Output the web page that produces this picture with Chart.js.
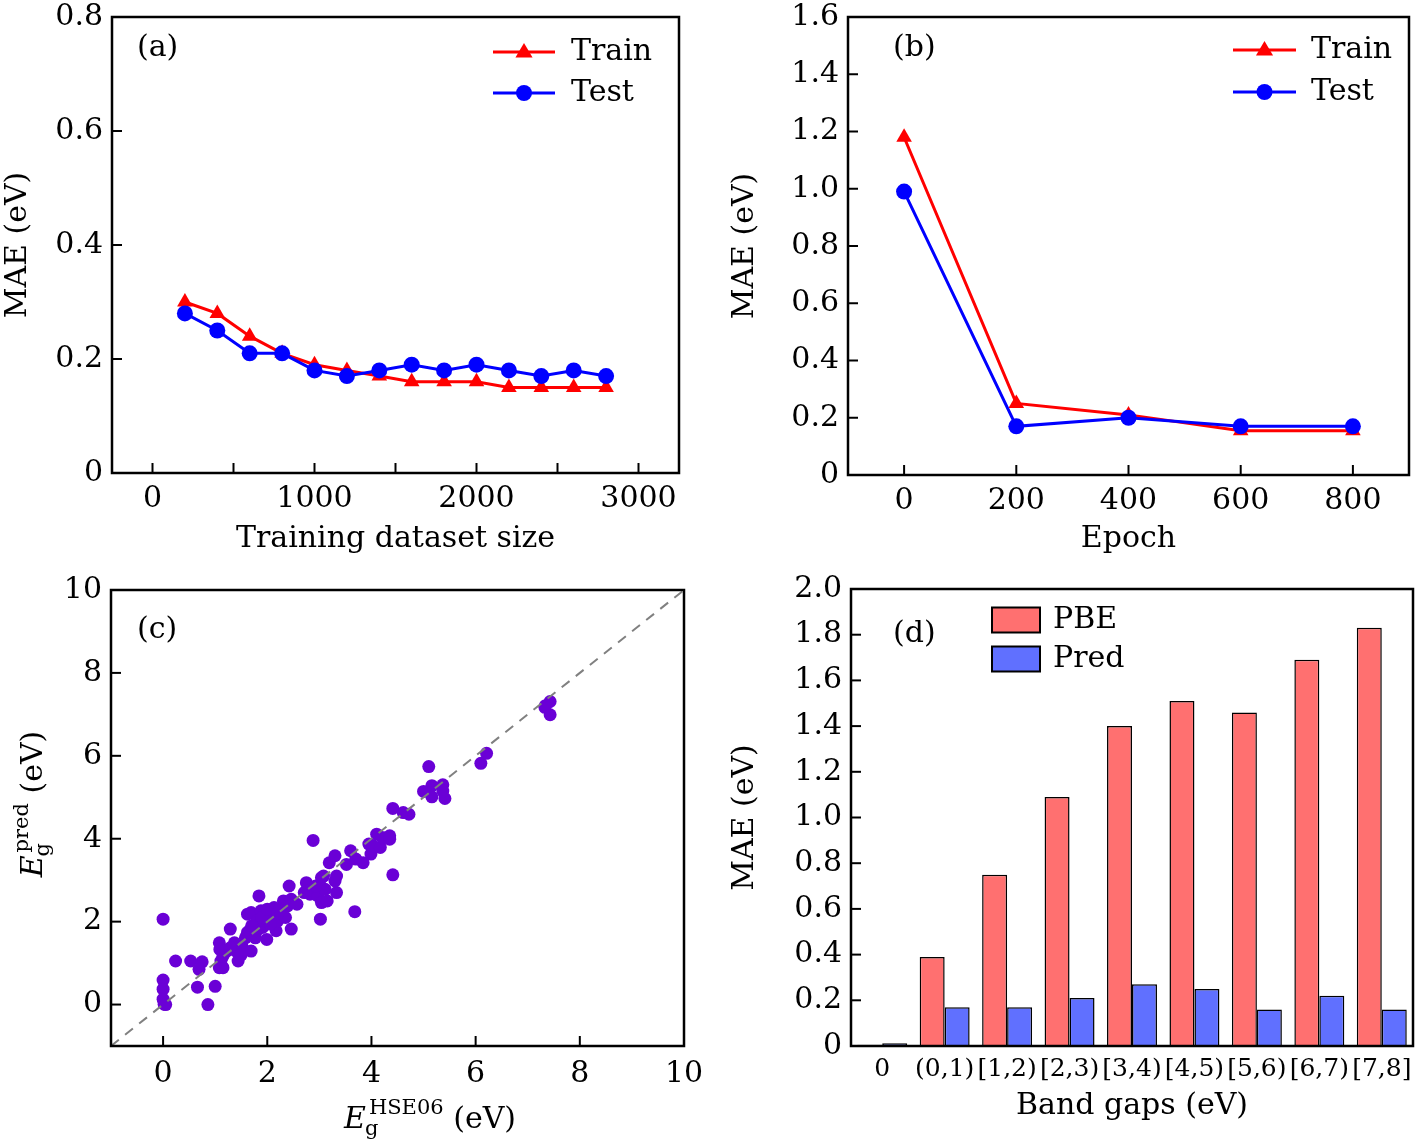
<!DOCTYPE html>
<html>
<head>
<meta charset="utf-8">
<script src="https://cdn.jsdelivr.net/npm/chart.js@4.4.0/dist/chart.umd.min.js"></script>
<style>
  body { margin: 0; background: #fff; width: 1418px; height: 1141px; position: relative; overflow: hidden; }
  canvas { position: absolute; }
</style>
</head>
<body>
<canvas id="chartA" width="709" height="570" style="left:0;top:0;width:709px;height:570px"></canvas>
<canvas id="chartB" width="709" height="570" style="left:709px;top:0;width:709px;height:570px"></canvas>
<canvas id="chartC" width="709" height="571" style="left:0;top:570px;width:709px;height:571px"></canvas>
<canvas id="chartD" width="709" height="571" style="left:709px;top:570px;width:709px;height:571px"></canvas>
<script>
// (a) MAE vs training set size
const datasetSizes = [200, 400, 600, 800, 1000, 1200, 1400, 1600, 1800, 2000, 2200, 2400, 2600, 2800];
const trainBySize = [0.30, 0.28, 0.24, 0.21, 0.19, 0.18, 0.17, 0.16, 0.16, 0.16, 0.15, 0.15, 0.15, 0.15];
const testBySize  = [0.28, 0.25, 0.21, 0.21, 0.18, 0.17, 0.18, 0.19, 0.18, 0.19, 0.18, 0.17, 0.18, 0.17];
const sizeTicks = [0, 500, 1000, 1500, 2000, 2500, 3000];

// (b) MAE vs epoch
const epochs = [0, 200, 400, 600, 800];
const trainByEpoch = [1.18, 0.25, 0.21, 0.155, 0.155];
const testByEpoch  = [0.99, 0.17, 0.20, 0.17, 0.17];
const epochTicks = [0, 200, 400, 600, 800];

// (c) predicted vs HSE06 gaps
const hseGap = [0, 0, 0, 0, 0.02, 0.05, 0.24, 0.53, 0.75, 0.69, 0.66, 1.0, 0.86, 1.08, 1.09, 1.11, 1.08, 1.15,
  1.29, 1.37, 1.22, 1.44, 1.40, 1.51, 1.62, 1.69, 1.62, 1.69, 1.84, 1.88, 1.77, 1.80, 1.91, 1.99, 2.02, 2.10,
  2.13, 2.17, 2.20, 2.28, 2.31, 2.39, 2.46, 2.42, 2.46, 2.57, 2.75, 2.71, 2.82, 2.88, 2.97, 3.08, 3.11, 3.04,
  3.15, 3.02, 3.33, 3.33, 3.30, 3.19, 3.30, 3.52, 3.60, 3.70, 3.84, 3.68, 3.99, 3.95, 4.03, 4.10, 4.17, 4.21,
  4.35, 4.35, 4.41, 4.41, 4.61, 4.72, 5.10, 5.00, 5.16, 5.16, 5.37, 5.41, 5.37, 6.10, 6.21, 7.33, 7.43, 7.43,
  7.34, 1.15, 1.29, 1.58, 1.66, 1.80, 1.88, 1.95, 2.06, 2.24, 2.35, 2.75, 2.93, 3.04, 1.50, 1.90, 2.00, 2.20, 1.70];
const predGap = [2.06, 0.59, 0.37, 0.13, 0.01, 0.0, 1.05, 1.05, 1.03, 0.85, 0.42, 0.44, 0.0, 1.49, 1.33, 1.05, 0.89, 0.89,
  1.82, 1.49, 1.29, 1.05, 1.29, 1.41, 1.74, 1.29, 2.18, 2.22, 2.62, 2.26, 1.61, 2.02, 1.86, 1.57, 2.10, 2.18,
  2.34, 1.78, 2.02, 2.18, 2.50, 2.38, 1.82, 2.86, 2.54, 2.42, 2.94, 2.70, 2.66, 3.96, 2.62, 3.10, 2.78, 2.46,
  2.50, 2.06, 2.70, 3.10, 2.98, 3.42, 3.59, 3.38, 3.71, 3.51, 3.42, 2.24, 3.63, 3.87, 3.83, 4.11, 3.79, 4.03,
  4.07, 3.99, 3.13, 4.73, 4.63, 4.59, 5.74, 5.14, 5.28, 5.01, 5.30, 4.97, 5.15, 5.82, 6.06, 7.17, 7.31, 6.99,
  7.21, 1.17, 1.37, 1.61, 1.78, 1.78, 1.94, 2.02, 1.94, 2.30, 2.10, 2.74, 2.86, 3.06, 1.20, 2.10, 2.30, 2.20, 1.90];
const diagonal = [-1, 10];
const gapTicks = [0, 2, 4, 6, 8, 10];

// (d) MAE by band-gap range
const gapBins = ['0', '(0,1)', '[1,2)', '[2,3)', '[3,4)', '[4,5)', '[5,6)', '[6,7)', '[7,8]'];
const pbeMae  = [0.005, 0.39, 0.75, 1.09, 1.40, 1.51, 1.46, 1.69, 1.83];
const predMae = [0.012, 0.17, 0.17, 0.21, 0.27, 0.25, 0.16, 0.22, 0.16];

const FONT = 'DejaVu Serif';
Chart.defaults.font.family = FONT;
Chart.defaults.font.size = 30;
Chart.defaults.color = '#000';

const fmt1 = v => (v === 0 ? '0' : v.toFixed(1));

// box frame + inward ticks + panel letter + legends
const decor = {
  id: 'decor',
  afterDatasetsDraw(chart, args, o) {
    const { ctx, chartArea: a } = chart;
    ctx.save();
    ctx.strokeStyle = '#000';
    ctx.lineWidth = 2;
    const len = 10;
    if (o.xTicks !== false) {
      chart.scales.x.ticks.forEach(t => {
        const px = chart.scales.x.getPixelForValue(t.value);
        if (px <= a.left + 1 || px >= a.right - 1) return;
        ctx.beginPath(); ctx.moveTo(px, a.bottom); ctx.lineTo(px, a.bottom - len); ctx.stroke();
      });
    }
    chart.scales.y.ticks.forEach(t => {
      const py = chart.scales.y.getPixelForValue(t.value);
      if (py <= a.top + 1 || py >= a.bottom - 1) return;
      ctx.beginPath(); ctx.moveTo(a.left, py); ctx.lineTo(a.left + len, py); ctx.stroke();
    });
    ctx.lineWidth = 2.5;
    ctx.strokeRect(a.left, a.top, a.right - a.left, a.bottom - a.top);

    ctx.font = '30px ' + FONT;
    ctx.fillStyle = '#000';
    ctx.textBaseline = 'middle';
    ctx.textAlign = 'left';
    if (o.label) ctx.fillText(o.label.text, o.label.x, o.label.y);

    if (o.lineLegend) {
      const L = o.lineLegend;
      L.items.forEach(it => {
        const ds = chart.data.datasets[it.ds];
        ctx.strokeStyle = ds.borderColor;
        ctx.lineWidth = 3;
        ctx.beginPath(); ctx.moveTo(L.x1, it.y); ctx.lineTo(L.x2, it.y); ctx.stroke();
        ctx.fillStyle = ds.backgroundColor;
        const cx = (L.x1 + L.x2) / 2;
        const r = ds.pointRadius;
        ctx.beginPath();
        if (ds.pointStyle === 'triangle') {
          ctx.moveTo(cx, it.y - r);
          ctx.lineTo(cx + r * 0.95, it.y + r * 0.6);
          ctx.lineTo(cx - r * 0.95, it.y + r * 0.6);
          ctx.closePath();
        } else {
          ctx.arc(cx, it.y, r, 0, Math.PI * 2);
        }
        ctx.fill();
        ctx.fillStyle = '#000';
        ctx.fillText(ds.label, L.tx, it.y);
      });
    }
    if (o.boxLegend) {
      const L = o.boxLegend;
      L.items.forEach(it => {
        const ds = chart.data.datasets[it.ds];
        ctx.fillStyle = ds.backgroundColor;
        ctx.fillRect(L.x, it.y - L.h / 2, L.w, L.h);
        ctx.strokeStyle = '#000';
        ctx.lineWidth = 2;
        ctx.strokeRect(L.x, it.y - L.h / 2, L.w, L.h);
        ctx.fillStyle = '#000';
        ctx.fillText(ds.label, L.tx, it.y);
      });
    }
    ctx.restore();
  }
};

// E_g^{sup} (eV) title with sub/superscripts
function drawGapTitle(ctx, cx, cy, sup, rotate) {
  const size = 30, small = 21;
  ctx.save();
  ctx.translate(cx, cy);
  if (rotate) ctx.rotate(-Math.PI / 2);
  ctx.fillStyle = '#000';
  ctx.textBaseline = 'alphabetic';
  ctx.textAlign = 'left';
  ctx.font = 'italic ' + size + 'px ' + FONT;
  const wE = ctx.measureText('E').width;
  ctx.font = small + 'px ' + FONT;
  const wSub = ctx.measureText('g').width;
  const wSup = ctx.measureText(sup).width;
  ctx.font = size + 'px ' + FONT;
  const wRest = ctx.measureText(' (eV)').width;
  const total = wE + Math.max(wSub + 1, wSup + 3) + wRest;
  let x = -total / 2;
  const base = 10;
  ctx.font = 'italic ' + size + 'px ' + FONT;
  ctx.fillText('E', x, base);
  x += wE;
  ctx.font = small + 'px ' + FONT;
  ctx.fillText('g', x - 1, base + 7);
  ctx.fillText(sup, x + 3, base - 14);
  x += Math.max(wSub + 1, wSup + 3);
  ctx.font = size + 'px ' + FONT;
  ctx.fillText(' (eV)', x, base);
  ctx.restore();
}

const mathTitles = {
  id: 'mathTitles',
  afterDraw(chart, args, o) {
    if (!o.x) return;
    drawGapTitle(chart.ctx, o.x.cx, o.x.cy, 'HSE06', false);
    drawGapTitle(chart.ctx, o.y.cx, o.y.cy, 'pred', true);
  }
};

function fixedTicks(values) {
  return s => { s.ticks = values.map(v => ({ value: v })); };
}

function yAxis(min, max, step, width, titleText, titlePad, cb) {
  return {
    min, max,
    grid: { display: false, drawTicks: false },
    border: { display: false },
    afterFit: s => { s.width = width; s.paddingTop = 0; s.paddingBottom = 0; },
    ticks: { stepSize: step, padding: 9, font: { size: 30, lineHeight: 1 }, callback: cb || fmt1 },
    title: titleText ? { display: true, text: titleText, font: { size: 30, lineHeight: 1 }, padding: { top: titlePad, bottom: titlePad } } : { display: false }
  };
}
function xAxis(min, max, tickValues, height, labelPad, titleText, titlePad, cb) {
  return {
    type: 'linear', min, max,
    grid: { display: false, drawTicks: false },
    border: { display: false },
    afterBuildTicks: fixedTicks(tickValues),
    afterFit: s => { s.height = height; s.paddingLeft = 0; s.paddingRight = 0; },
    ticks: { padding: labelPad, maxRotation: 0, autoSkip: false, font: { size: 30, lineHeight: 1 }, callback: cb || (v => String(v)) },
    title: titleText ? { display: true, text: titleText, font: { size: 30, lineHeight: 1 }, padding: { top: titlePad, bottom: titlePad } } : { display: false }
  };
}

const commonPlugins = { legend: { display: false }, tooltip: { enabled: false } };

function lineSet(label, xs, ys, color, style, radius, order) {
  return {
    label, data: xs.map((x, i) => ({ x, y: ys[i] })),
    borderColor: color, backgroundColor: color, borderWidth: 3,
    pointStyle: style, pointRadius: radius, pointBorderWidth: 0,
    pointBackgroundColor: color, tension: 0, order, clip: false
  };
}

// (a)
new Chart(document.getElementById('chartA'), {
  type: 'line',
  data: { datasets: [
    lineSet('Train', datasetSizes, trainBySize, '#ff0000', 'triangle', 9, 1),
    lineSet('Test', datasetSizes, testBySize, '#0000ff', 'circle', 8, 0)
  ] },
  options: {
    responsive: false, animation: false,
    layout: { padding: { left: 0, top: 17, right: 30, bottom: 0 } },
    scales: {
      x: xAxis(-250, 3250, sizeTicks, 97, 11, 'Training dataset size', 16, v => (v % 1000 === 0 ? String(v) : '')),
      y: yAxis(0, 0.8, 0.2, 112, 'MAE (eV)', 3)
    },
    plugins: { ...commonPlugins, decor: {
      label: { text: '(a)', x: 137, y: 48 },
      lineLegend: { x1: 493, x2: 555, tx: 571, items: [{ ds: 0, y: 52 }, { ds: 1, y: 93 }] }
    } }
  },
  plugins: [decor]
});

// (b)
new Chart(document.getElementById('chartB'), {
  type: 'line',
  data: { datasets: [
    lineSet('Train', epochs, trainByEpoch, '#ff0000', 'triangle', 9, 1),
    lineSet('Test', epochs, testByEpoch, '#0000ff', 'circle', 8, 0)
  ] },
  options: {
    responsive: false, animation: false,
    layout: { padding: { left: 0, top: 17, right: 5, bottom: 0 } },
    scales: {
      x: xAxis(-100, 900, epochTicks, 95, 11, 'Epoch', 16),
      y: yAxis(0, 1.6, 0.2, 139, 'MAE (eV)', 21)
    },
    plugins: { ...commonPlugins, decor: {
      label: { text: '(b)', x: 184, y: 48 },
      lineLegend: { x1: 524, x2: 587, tx: 602, items: [{ ds: 0, y: 50 }, { ds: 1, y: 92 }] }
    } }
  },
  plugins: [decor]
});

// (c)
new Chart(document.getElementById('chartC'), {
  type: 'scatter',
  data: { datasets: [
    {
      label: 'parity', type: 'line', data: diagonal.map(v => ({ x: v, y: v })),
      borderColor: '#808080', borderWidth: 2, borderDash: [10, 8], pointRadius: 0, order: 0
    },
    {
      label: 'samples', data: hseGap.map((x, i) => ({ x, y: predGap[i] })),
      backgroundColor: '#6a00d6', borderWidth: 0, pointRadius: 6.5, order: 1
    }
  ] },
  options: {
    responsive: false, animation: false,
    layout: { padding: { left: 0, top: 20, right: 25, bottom: 0 } },
    scales: {
      x: xAxis(-1, 10, gapTicks, 95, 13, '', 0),
      y: Object.assign(yAxis(-1, 10, 2, 111, '', 0, v => String(v)), { afterBuildTicks: fixedTicks(gapTicks) })
    },
    plugins: { ...commonPlugins,
      decor: { label: { text: '(c)', x: 137, y: 60 } },
      mathTitles: { x: { cx: 430, cy: 548 }, y: { cx: 32, cy: 234 } }
    }
  },
  plugins: [decor, mathTitles]
});

// (d)
new Chart(document.getElementById('chartD'), {
  type: 'bar',
  data: {
    labels: gapBins,
    datasets: [
      { label: 'PBE', data: pbeMae, backgroundColor: '#ff7070', borderColor: '#000', borderWidth: 1.5 },
      { label: 'Pred', data: predMae, backgroundColor: '#6070ff', borderColor: '#000', borderWidth: 1.5 }
    ]
  },
  options: {
    responsive: false, animation: false,
    datasets: { bar: { categoryPercentage: 0.8, barPercentage: 1.0 } },
    layout: { padding: { left: 0, top: 19, right: 5, bottom: 0 } },
    scales: {
      x: {
        grid: { display: false, drawTicks: false }, border: { display: false },
        afterFit: s => { s.height = 95; s.paddingLeft = 0; s.paddingRight = 0; },
        ticks: { padding: 11, maxRotation: 0, autoSkip: false, font: { size: 25, lineHeight: 1 } },
        title: { display: true, text: 'Band gaps (eV)', font: { size: 30, lineHeight: 1 }, padding: { top: 20, bottom: 20 } }
      },
      y: yAxis(0, 2.0, 0.2, 142, 'MAE (eV)', 21)
    },
    plugins: { ...commonPlugins, decor: {
      xTicks: false,
      label: { text: '(d)', x: 184, y: 64 },
      boxLegend: { x: 283, w: 48, h: 25, tx: 344, items: [{ ds: 0, y: 50 }, { ds: 1, y: 89 }] }
    } }
  },
  plugins: [decor]
});
</script>
</body>
</html>
